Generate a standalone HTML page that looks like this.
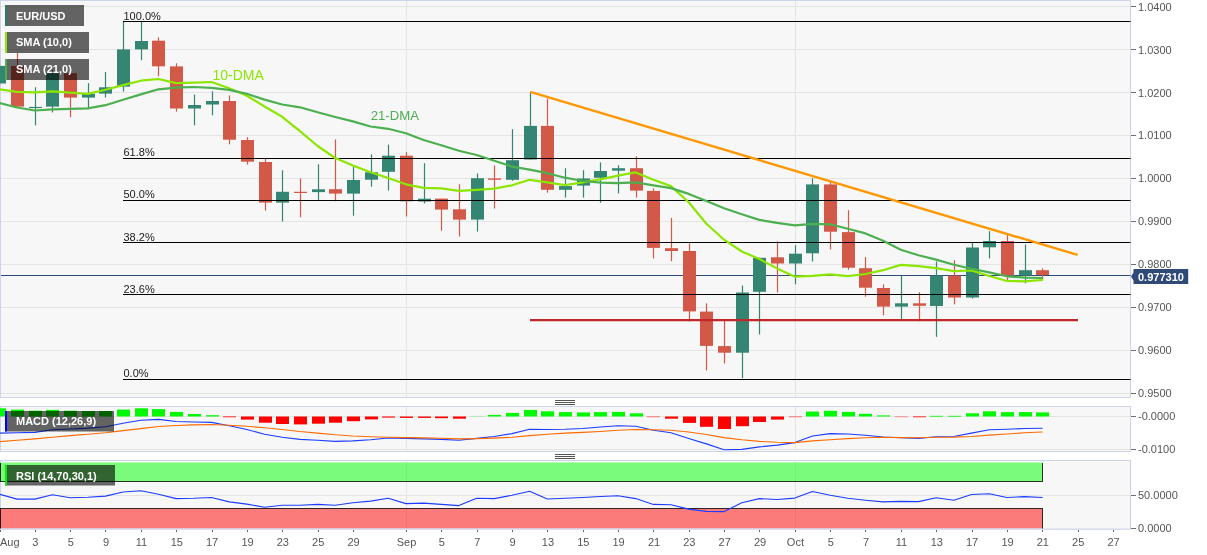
<!DOCTYPE html>
<html lang="en"><head><meta charset="utf-8"><title>EUR/USD</title>
<style>html,body{margin:0;padding:0;background:#fff;}body{width:1207px;height:555px;overflow:hidden;font-family:"Liberation Sans",Arial,sans-serif;}svg{display:block;}</style>
</head><body>
<svg width="1207" height="555" viewBox="0 0 1207 555" font-family="'Liberation Sans', Arial, sans-serif" font-size="11">
<rect x="0" y="0" width="1207" height="555" fill="#ffffff"/>
<g shape-rendering="crispEdges">
<rect x="0" y="0" width="1130.5" height="397.5" fill="#f7f7f7"/>
<rect x="0" y="406" width="1130.5" height="45.5" fill="#f7f7f7"/>
<rect x="0" y="460.5" width="1130.5" height="68.5" fill="#f7f7f7"/>
<line x1="1" x2="1130.5" y1="6.5" y2="6.5" stroke="#e4e4e4" stroke-width="1"/>
<line x1="1" x2="1130.5" y1="49.5" y2="49.5" stroke="#e4e4e4" stroke-width="1"/>
<line x1="1" x2="1130.5" y1="92.5" y2="92.5" stroke="#e4e4e4" stroke-width="1"/>
<line x1="1" x2="1130.5" y1="135.5" y2="135.5" stroke="#e4e4e4" stroke-width="1"/>
<line x1="1" x2="1130.5" y1="178.5" y2="178.5" stroke="#e4e4e4" stroke-width="1"/>
<line x1="1" x2="1130.5" y1="221.5" y2="221.5" stroke="#e4e4e4" stroke-width="1"/>
<line x1="1" x2="1130.5" y1="264.5" y2="264.5" stroke="#e4e4e4" stroke-width="1"/>
<line x1="1" x2="1130.5" y1="307.5" y2="307.5" stroke="#e4e4e4" stroke-width="1"/>
<line x1="1" x2="1130.5" y1="350.5" y2="350.5" stroke="#e4e4e4" stroke-width="1"/>
<line x1="1" x2="1130.5" y1="393.5" y2="393.5" stroke="#e4e4e4" stroke-width="1"/>
<line x1="1" x2="1130.5" y1="416.5" y2="416.5" stroke="#e4e4e4" stroke-width="1"/>
<line x1="1" x2="1130.5" y1="449.5" y2="449.5" stroke="#e4e4e4" stroke-width="1"/>
<line x1="1" x2="1130.5" y1="495.5" y2="495.5" stroke="#e4e4e4" stroke-width="1"/>
<line x1="406.5" x2="406.5" y1="1" y2="397" stroke="#e4e4e4" stroke-width="1"/>
<line x1="406.5" x2="406.5" y1="406.5" y2="451" stroke="#e4e4e4" stroke-width="1"/>
<line x1="406.5" x2="406.5" y1="461" y2="528.5" stroke="#e4e4e4" stroke-width="1"/>
<line x1="795.5" x2="795.5" y1="1" y2="397" stroke="#e4e4e4" stroke-width="1"/>
<line x1="795.5" x2="795.5" y1="406.5" y2="451" stroke="#e4e4e4" stroke-width="1"/>
<line x1="795.5" x2="795.5" y1="461" y2="528.5" stroke="#e4e4e4" stroke-width="1"/>
</g>
<g shape-rendering="crispEdges" fill="none" stroke="#cdd3ea" stroke-width="1">
<path d="M0.5,397.5 V0.5 H1130.5 V397.5 Z"/>
<rect x="0.5" y="406.5" width="1130.0" height="45"/>
<path d="M0.5,529 V460.5 H1130.5 V529"/>
</g>
<line x1="1" x2="1130.5" y1="275.5" y2="275.5" stroke="#2f4a78" stroke-width="1.2"/>
<g>
<rect x="-1.1" y="60.0" width="1.2" height="26.0" fill="#348571"/>
<rect x="-7" y="65.9" width="13" height="17.6" fill="#348571"/>
<rect x="16.9" y="53.0" width="1.2" height="53.6" fill="#d25848"/>
<rect x="11" y="66.0" width="13" height="40.6" fill="#d25848"/>
<rect x="34.9" y="87.3" width="1.2" height="38.1" fill="#348571"/>
<rect x="29" y="106.9" width="13" height="1.2" fill="#348571"/>
<rect x="51.9" y="70.0" width="1.2" height="42.4" fill="#348571"/>
<rect x="46" y="73.2" width="13" height="33.4" fill="#348571"/>
<rect x="69.9" y="71.0" width="1.2" height="46.2" fill="#d25848"/>
<rect x="64" y="73.2" width="13" height="24.4" fill="#d25848"/>
<rect x="87.9" y="83.1" width="1.2" height="26.1" fill="#348571"/>
<rect x="82" y="93.9" width="13" height="3.7" fill="#348571"/>
<rect x="104.9" y="72.0" width="1.2" height="25.6" fill="#348571"/>
<rect x="99" y="87.3" width="13" height="6.3" fill="#348571"/>
<rect x="122.9" y="20.8" width="1.2" height="70.7" fill="#348571"/>
<rect x="117" y="49.4" width="13" height="37.2" fill="#348571"/>
<rect x="140.9" y="21.6" width="1.2" height="38.6" fill="#348571"/>
<rect x="135" y="41.0" width="13" height="8.4" fill="#348571"/>
<rect x="157.9" y="37.3" width="1.2" height="39.0" fill="#d25848"/>
<rect x="152" y="40.7" width="13" height="25.6" fill="#d25848"/>
<rect x="175.9" y="63.3" width="1.2" height="48.3" fill="#d25848"/>
<rect x="170" y="66.4" width="13" height="42.1" fill="#d25848"/>
<rect x="193.9" y="94.5" width="1.2" height="30.8" fill="#348571"/>
<rect x="188" y="105.0" width="13" height="3.5" fill="#348571"/>
<rect x="211.9" y="91.3" width="1.2" height="24.0" fill="#348571"/>
<rect x="206" y="101.0" width="13" height="3.5" fill="#348571"/>
<rect x="228.9" y="95.4" width="1.2" height="48.9" fill="#d25848"/>
<rect x="223" y="101.0" width="13" height="38.7" fill="#d25848"/>
<rect x="246.9" y="137.2" width="1.2" height="27.3" fill="#d25848"/>
<rect x="241" y="140.0" width="13" height="21.7" fill="#d25848"/>
<rect x="264.9" y="159.0" width="1.2" height="51.7" fill="#d25848"/>
<rect x="259" y="162.0" width="13" height="40.6" fill="#d25848"/>
<rect x="281.9" y="170.3" width="1.2" height="51.2" fill="#348571"/>
<rect x="276" y="191.8" width="13" height="10.8" fill="#348571"/>
<rect x="299.9" y="178.4" width="1.2" height="38.9" fill="#d25848"/>
<rect x="294" y="191.8" width="13" height="1.2" fill="#d25848"/>
<rect x="317.9" y="164.3" width="1.2" height="35.6" fill="#348571"/>
<rect x="312" y="189.3" width="13" height="2.8" fill="#348571"/>
<rect x="334.9" y="139.4" width="1.2" height="61.9" fill="#d25848"/>
<rect x="329" y="189.2" width="13" height="4.4" fill="#d25848"/>
<rect x="352.9" y="166.8" width="1.2" height="48.9" fill="#348571"/>
<rect x="347" y="180.0" width="13" height="13.6" fill="#348571"/>
<rect x="370.9" y="154.4" width="1.2" height="32.3" fill="#348571"/>
<rect x="365" y="172.3" width="13" height="7.4" fill="#348571"/>
<rect x="387.9" y="144.6" width="1.2" height="45.9" fill="#348571"/>
<rect x="382" y="155.7" width="13" height="16.1" fill="#348571"/>
<rect x="405.9" y="152.0" width="1.2" height="64.5" fill="#d25848"/>
<rect x="400" y="155.7" width="13" height="45.6" fill="#d25848"/>
<rect x="423.9" y="163.2" width="1.2" height="40.2" fill="#348571"/>
<rect x="418" y="198.7" width="13" height="2.8" fill="#348571"/>
<rect x="440.9" y="198.6" width="1.2" height="32.1" fill="#d25848"/>
<rect x="435" y="198.6" width="13" height="11.0" fill="#d25848"/>
<rect x="458.9" y="184.3" width="1.2" height="52.2" fill="#d25848"/>
<rect x="453" y="209.3" width="13" height="10.3" fill="#d25848"/>
<rect x="476.9" y="173.5" width="1.2" height="58.0" fill="#348571"/>
<rect x="471" y="178.2" width="13" height="41.4" fill="#348571"/>
<rect x="493.9" y="165.4" width="1.2" height="43.1" fill="#d25848"/>
<rect x="488" y="178.4" width="13" height="1.4" fill="#d25848"/>
<rect x="511.9" y="129.2" width="1.2" height="51.5" fill="#348571"/>
<rect x="506" y="160.2" width="13" height="19.6" fill="#348571"/>
<rect x="529.9" y="91.9" width="1.2" height="67.6" fill="#348571"/>
<rect x="524" y="125.9" width="13" height="33.6" fill="#348571"/>
<rect x="546.9" y="98.6" width="1.2" height="94.1" fill="#d25848"/>
<rect x="541" y="125.9" width="13" height="63.9" fill="#d25848"/>
<rect x="564.9" y="168.2" width="1.2" height="29.4" fill="#348571"/>
<rect x="559" y="186.1" width="13" height="3.7" fill="#348571"/>
<rect x="582.9" y="170.2" width="1.2" height="27.4" fill="#348571"/>
<rect x="577" y="178.5" width="13" height="7.1" fill="#348571"/>
<rect x="599.9" y="162.4" width="1.2" height="40.3" fill="#348571"/>
<rect x="594" y="171.0" width="13" height="6.8" fill="#348571"/>
<rect x="617.9" y="165.2" width="1.2" height="28.2" fill="#348571"/>
<rect x="612" y="168.2" width="13" height="2.5" fill="#348571"/>
<rect x="635.9" y="156.3" width="1.2" height="41.3" fill="#d25848"/>
<rect x="630" y="168.2" width="13" height="22.4" fill="#d25848"/>
<rect x="652.9" y="188.4" width="1.2" height="70.1" fill="#d25848"/>
<rect x="647" y="190.9" width="13" height="57.0" fill="#d25848"/>
<rect x="670.9" y="217.9" width="1.2" height="43.3" fill="#d25848"/>
<rect x="665" y="248.2" width="13" height="2.8" fill="#d25848"/>
<rect x="688.9" y="243.3" width="1.2" height="78.2" fill="#d25848"/>
<rect x="683" y="251.0" width="13" height="60.4" fill="#d25848"/>
<rect x="705.9" y="303.3" width="1.2" height="67.1" fill="#d25848"/>
<rect x="700" y="311.6" width="13" height="34.3" fill="#d25848"/>
<rect x="723.9" y="319.6" width="1.2" height="43.9" fill="#d25848"/>
<rect x="718" y="346.1" width="13" height="6.6" fill="#d25848"/>
<rect x="741.9" y="285.5" width="1.2" height="92.7" fill="#348571"/>
<rect x="736" y="292.5" width="13" height="60.2" fill="#348571"/>
<rect x="758.9" y="257.8" width="1.2" height="76.7" fill="#348571"/>
<rect x="753" y="257.8" width="13" height="34.0" fill="#348571"/>
<rect x="776.9" y="241.3" width="1.2" height="51.2" fill="#d25848"/>
<rect x="771" y="257.3" width="13" height="6.2" fill="#d25848"/>
<rect x="794.9" y="245.2" width="1.2" height="39.1" fill="#348571"/>
<rect x="789" y="253.7" width="13" height="9.8" fill="#348571"/>
<rect x="811.9" y="178.2" width="1.2" height="83.3" fill="#348571"/>
<rect x="806" y="184.4" width="13" height="68.9" fill="#348571"/>
<rect x="829.9" y="181.5" width="1.2" height="68.0" fill="#d25848"/>
<rect x="824" y="184.4" width="13" height="47.3" fill="#d25848"/>
<rect x="847.9" y="210.2" width="1.2" height="59.6" fill="#d25848"/>
<rect x="842" y="232.1" width="13" height="35.6" fill="#d25848"/>
<rect x="864.9" y="257.1" width="1.2" height="39.6" fill="#d25848"/>
<rect x="859" y="268.2" width="13" height="19.5" fill="#d25848"/>
<rect x="882.9" y="284.4" width="1.2" height="31.0" fill="#d25848"/>
<rect x="877" y="288.0" width="13" height="18.6" fill="#d25848"/>
<rect x="900.9" y="275.6" width="1.2" height="43.6" fill="#348571"/>
<rect x="895" y="303.3" width="13" height="3.3" fill="#348571"/>
<rect x="918.9" y="292.2" width="1.2" height="29.0" fill="#d25848"/>
<rect x="913" y="303.3" width="13" height="2.5" fill="#d25848"/>
<rect x="935.9" y="261.5" width="1.2" height="75.4" fill="#348571"/>
<rect x="930" y="275.6" width="13" height="30.4" fill="#348571"/>
<rect x="953.9" y="260.2" width="1.2" height="44.1" fill="#d25848"/>
<rect x="948" y="275.6" width="13" height="21.9" fill="#d25848"/>
<rect x="971.9" y="242.8" width="1.2" height="55.7" fill="#348571"/>
<rect x="966" y="247.5" width="13" height="50.0" fill="#348571"/>
<rect x="988.9" y="231.2" width="1.2" height="27.2" fill="#348571"/>
<rect x="983" y="241.0" width="13" height="6.3" fill="#348571"/>
<rect x="1006.9" y="234.9" width="1.2" height="47.2" fill="#d25848"/>
<rect x="1001" y="241.0" width="13" height="34.5" fill="#d25848"/>
<rect x="1024.9" y="244.5" width="1.2" height="38.8" fill="#348571"/>
<rect x="1019" y="270.2" width="13" height="5.3" fill="#348571"/>
<rect x="1041.9" y="268.4" width="1.2" height="11.2" fill="#d25848"/>
<rect x="1036" y="270.2" width="13" height="4.8" fill="#d25848"/>
</g>
<line x1="123" x2="1130.5" y1="21.5" y2="21.5" stroke="#000" stroke-width="1.05"/>
<text x="123.5" y="20.1" fill="#1a1a1a">100.0%</text>
<line x1="123" x2="1130.5" y1="158.5" y2="158.5" stroke="#000" stroke-width="1.05"/>
<text x="123.5" y="156.1" fill="#1a1a1a">61.8%</text>
<line x1="123" x2="1130.5" y1="200.5" y2="200.5" stroke="#000" stroke-width="1.05"/>
<text x="123.5" y="198.1" fill="#1a1a1a">50.0%</text>
<line x1="123" x2="1130.5" y1="242.5" y2="242.5" stroke="#000" stroke-width="1.05"/>
<text x="123.5" y="241.1" fill="#1a1a1a">38.2%</text>
<line x1="123" x2="1130.5" y1="294.5" y2="294.5" stroke="#000" stroke-width="1.05"/>
<text x="123.5" y="293.1" fill="#1a1a1a">23.6%</text>
<line x1="123" x2="1130.5" y1="379.5" y2="379.5" stroke="#000" stroke-width="1.05"/>
<text x="123.5" y="377.1" fill="#1a1a1a">0.0%</text>
<polyline points="-0.6,89.3 17.1,91.8 34.8,92.3 52.4,91.4 70.1,92.7 87.8,93.9 105.5,89.8 123.1,85.1 140.8,80.7 158.5,79.0 176.2,83.1 193.8,82.6 211.5,82.0 229.2,88.3 246.9,95.7 264.5,106.5 282.2,116.8 299.9,131.2 317.6,146.0 335.2,158.0 352.9,165.5 370.6,172.2 388.2,178.0 405.9,184.3 423.6,187.9 441.3,188.4 458.9,190.9 476.6,189.8 494.3,188.6 512.0,185.3 529.6,179.8 547.3,182.3 565.0,185.1 582.7,182.3 600.4,179.3 618.0,175.7 635.7,172.4 653.4,179.8 671.0,186.1 688.7,202.2 706.4,223.7 724.1,239.7 741.8,251.5 759.4,259.0 777.1,268.4 794.8,276.7 812.5,275.9 830.1,274.3 847.8,276.1 865.5,274.0 883.1,270.2 900.8,264.9 918.5,266.2 936.2,268.2 953.9,271.2 971.5,270.5 989.2,276.0 1006.9,281.0 1024.6,281.3 1042.2,280.0" fill="none" stroke="#8ce600" stroke-width="2.2" stroke-linejoin="round" stroke-linecap="round" />
<polyline points="-0.6,103.0 17.1,107.5 34.8,110.5 52.4,109.3 70.1,108.8 87.8,108.3 105.5,105.2 123.1,99.7 140.8,94.4 158.5,89.3 176.2,87.6 193.8,87.0 211.5,87.8 229.2,89.9 246.9,93.8 264.5,99.6 282.2,104.5 299.9,107.3 317.6,112.3 335.2,117.0 352.9,121.4 370.6,126.5 388.2,128.8 405.9,133.3 423.6,140.0 441.3,145.2 458.9,150.8 476.6,155.0 494.3,160.8 512.0,166.6 529.6,169.6 547.3,173.2 565.0,177.7 582.7,181.0 600.4,182.6 618.0,183.1 635.7,182.3 653.4,185.3 671.0,188.1 688.7,193.9 706.4,201.0 724.1,208.3 741.8,214.3 759.4,219.9 777.1,222.9 794.8,225.4 812.5,223.8 830.1,224.3 847.8,228.8 865.5,233.4 883.1,240.7 900.8,249.7 918.5,255.2 936.2,259.6 953.9,264.8 971.5,268.7 989.2,272.4 1006.9,276.3 1024.6,277.6 1042.2,278.0" fill="none" stroke="#4caf50" stroke-width="2.2" stroke-linejoin="round" stroke-linecap="round" />
<text x="212.5" y="80" font-size="14" fill="#8ce600">10-DMA</text>
<text x="370.7" y="120" font-size="13.2" fill="#4caf50">21-DMA</text>
<line x1="530" x2="1078" y1="320.2" y2="320.2" stroke="#c0282a" stroke-width="2.2"/>
<line x1="530.3" y1="91.9" x2="1077.6" y2="254.9" stroke="#ff9800" stroke-width="2.4"/>
<g>
<rect x="-7" y="408.3" width="13" height="8.2" fill="#00f800" fill-opacity="1.00"/>
<rect x="11" y="409.6" width="13" height="6.9" fill="#00f800" fill-opacity="1.00"/>
<rect x="29" y="410.7" width="13" height="5.8" fill="#00f800" fill-opacity="1.00"/>
<rect x="46" y="409.9" width="13" height="6.6" fill="#00f800" fill-opacity="1.00"/>
<rect x="64" y="410.7" width="13" height="5.8" fill="#00f800" fill-opacity="1.00"/>
<rect x="82" y="411.0" width="13" height="5.5" fill="#00f800" fill-opacity="1.00"/>
<rect x="99" y="411.0" width="13" height="5.5" fill="#00f800" fill-opacity="1.00"/>
<rect x="117" y="409.6" width="13" height="6.9" fill="#00f800" fill-opacity="1.00"/>
<rect x="135" y="408.3" width="13" height="8.2" fill="#00f800" fill-opacity="1.00"/>
<rect x="152" y="409.1" width="13" height="7.4" fill="#00f800" fill-opacity="1.00"/>
<rect x="170" y="411.9" width="13" height="4.6" fill="#00f800" fill-opacity="1.00"/>
<rect x="188" y="414.0" width="13" height="2.5" fill="#00f800" fill-opacity="1.00"/>
<rect x="206" y="415.2" width="13" height="1.3" fill="#00f800" fill-opacity="1.00"/>
<rect x="223" y="416.3" width="13" height="1.0" fill="#ff0000" fill-opacity="0.80"/>
<rect x="241" y="416.5" width="13" height="3.1" fill="#ff0000" fill-opacity="1.00"/>
<rect x="259" y="416.5" width="13" height="6.2" fill="#ff0000" fill-opacity="1.00"/>
<rect x="276" y="416.5" width="13" height="7.5" fill="#ff0000" fill-opacity="1.00"/>
<rect x="294" y="416.5" width="13" height="7.9" fill="#ff0000" fill-opacity="1.00"/>
<rect x="312" y="416.5" width="13" height="7.2" fill="#ff0000" fill-opacity="1.00"/>
<rect x="329" y="416.5" width="13" height="6.2" fill="#ff0000" fill-opacity="1.00"/>
<rect x="347" y="416.5" width="13" height="4.7" fill="#ff0000" fill-opacity="1.00"/>
<rect x="365" y="416.5" width="13" height="2.9" fill="#ff0000" fill-opacity="1.00"/>
<rect x="382" y="416.5" width="13" height="1.1" fill="#ff0000" fill-opacity="1.00"/>
<rect x="400" y="416.5" width="13" height="1.4" fill="#ff0000" fill-opacity="1.00"/>
<rect x="418" y="416.5" width="13" height="1.4" fill="#ff0000" fill-opacity="1.00"/>
<rect x="435" y="416.5" width="13" height="1.7" fill="#ff0000" fill-opacity="1.00"/>
<rect x="453" y="416.5" width="13" height="2.2" fill="#ff0000" fill-opacity="1.00"/>
<rect x="471" y="415.8" width="13" height="1.0" fill="#00f800" fill-opacity="0.25"/>
<rect x="488" y="414.9" width="13" height="1.6" fill="#00f800" fill-opacity="1.00"/>
<rect x="506" y="412.9" width="13" height="3.6" fill="#00f800" fill-opacity="1.00"/>
<rect x="524" y="409.9" width="13" height="6.6" fill="#00f800" fill-opacity="1.00"/>
<rect x="541" y="411.3" width="13" height="5.2" fill="#00f800" fill-opacity="1.00"/>
<rect x="559" y="412.1" width="13" height="4.4" fill="#00f800" fill-opacity="1.00"/>
<rect x="577" y="412.4" width="13" height="4.1" fill="#00f800" fill-opacity="1.00"/>
<rect x="594" y="412.1" width="13" height="4.4" fill="#00f800" fill-opacity="1.00"/>
<rect x="612" y="411.9" width="13" height="4.6" fill="#00f800" fill-opacity="1.00"/>
<rect x="630" y="413.3" width="13" height="3.2" fill="#00f800" fill-opacity="1.00"/>
<rect x="647" y="416.3" width="13" height="1.0" fill="#ff0000" fill-opacity="0.50"/>
<rect x="665" y="416.5" width="13" height="2.2" fill="#ff0000" fill-opacity="1.00"/>
<rect x="683" y="416.5" width="13" height="6.4" fill="#ff0000" fill-opacity="1.00"/>
<rect x="700" y="416.5" width="13" height="10.3" fill="#ff0000" fill-opacity="1.00"/>
<rect x="718" y="416.5" width="13" height="12.5" fill="#ff0000" fill-opacity="1.00"/>
<rect x="736" y="416.5" width="13" height="9.7" fill="#ff0000" fill-opacity="1.00"/>
<rect x="753" y="416.5" width="13" height="5.5" fill="#ff0000" fill-opacity="1.00"/>
<rect x="771" y="416.5" width="13" height="3.1" fill="#ff0000" fill-opacity="1.00"/>
<rect x="789" y="416.3" width="13" height="1.0" fill="#ff0000" fill-opacity="0.50"/>
<rect x="806" y="411.6" width="13" height="4.9" fill="#00f800" fill-opacity="1.00"/>
<rect x="824" y="410.8" width="13" height="5.7" fill="#00f800" fill-opacity="1.00"/>
<rect x="842" y="411.9" width="13" height="4.6" fill="#00f800" fill-opacity="1.00"/>
<rect x="859" y="413.8" width="13" height="2.7" fill="#00f800" fill-opacity="1.00"/>
<rect x="877" y="415.4" width="13" height="1.1" fill="#00f800" fill-opacity="1.00"/>
<rect x="895" y="416.3" width="13" height="1.0" fill="#ff0000" fill-opacity="0.40"/>
<rect x="913" y="416.3" width="13" height="1.0" fill="#ff0000" fill-opacity="0.80"/>
<rect x="930" y="415.8" width="13" height="1.0" fill="#00f800" fill-opacity="0.80"/>
<rect x="948" y="415.8" width="13" height="1.0" fill="#00f800" fill-opacity="0.80"/>
<rect x="966" y="413.3" width="13" height="3.2" fill="#00f800" fill-opacity="1.00"/>
<rect x="983" y="411.3" width="13" height="5.2" fill="#00f800" fill-opacity="1.00"/>
<rect x="1001" y="412.1" width="13" height="4.4" fill="#00f800" fill-opacity="1.00"/>
<rect x="1019" y="412.1" width="13" height="4.4" fill="#00f800" fill-opacity="1.00"/>
<rect x="1036" y="412.4" width="13" height="4.1" fill="#00f800" fill-opacity="1.00"/>
</g>
<polyline points="-0.6,433.1 17.1,432.8 34.8,432.4 52.4,429.8 70.1,429.0 87.8,428.1 105.5,426.8 123.1,423.2 140.8,420.2 158.5,419.4 176.2,421.5 193.8,422.0 211.5,422.4 229.2,425.7 246.9,429.5 264.5,434.3 282.2,437.3 299.9,439.4 317.6,440.3 335.2,441.4 352.9,440.9 370.6,439.8 388.2,438.0 405.9,438.4 423.6,438.9 441.3,439.4 458.9,440.3 476.6,438.4 494.3,436.5 512.0,433.6 529.6,429.3 547.3,429.5 565.0,429.3 582.7,428.5 600.4,427.0 618.0,425.7 635.7,426.2 653.4,430.2 671.0,432.8 688.7,438.4 706.4,443.9 724.1,449.7 741.8,449.4 759.4,446.9 777.1,445.1 794.8,442.6 812.5,436.0 830.1,433.6 847.8,434.0 865.5,435.3 883.1,437.0 900.8,437.8 918.5,438.4 936.2,436.8 953.9,436.5 971.5,433.1 989.2,429.8 1006.9,429.3 1024.6,428.5 1042.2,428.2" fill="none" stroke="#1c3cff" stroke-width="1.1" stroke-linejoin="round" stroke-linecap="round" />
<polyline points="-0.6,441.7 17.1,440.2 34.8,438.9 52.4,437.3 70.1,435.6 87.8,434.3 105.5,432.8 123.1,430.6 140.8,428.6 158.5,426.5 176.2,425.5 193.8,424.9 211.5,424.5 229.2,425.2 246.9,426.2 264.5,427.8 282.2,429.5 299.9,431.5 317.6,433.1 335.2,434.8 352.9,436.0 370.6,436.8 388.2,437.3 405.9,437.6 423.6,437.9 441.3,438.3 458.9,438.9 476.6,438.6 494.3,438.1 512.0,437.3 529.6,435.6 547.3,434.3 565.0,433.1 582.7,432.4 600.4,431.5 618.0,430.3 635.7,429.5 653.4,429.8 671.0,430.3 688.7,432.0 706.4,434.5 724.1,437.6 741.8,439.8 759.4,441.4 777.1,442.3 794.8,442.6 812.5,440.9 830.1,439.8 847.8,438.6 865.5,437.8 883.1,437.3 900.8,437.6 918.5,437.8 936.2,437.3 953.9,437.1 971.5,436.5 989.2,435.1 1006.9,434.0 1024.6,432.8 1042.2,432.0" fill="none" stroke="#ff6a00" stroke-width="1.1" stroke-linejoin="round" stroke-linecap="round" />
<rect x="0" y="462.5" width="1042.5" height="19" fill="#00ff00" fill-opacity="0.5"/>
<rect x="0" y="508.5" width="1042.5" height="20" fill="#ff0000" fill-opacity="0.5"/>
<path d="M0.5,462.5 V481.5 H1042.5 V462.5" fill="none" stroke="#000" stroke-opacity="0.8" stroke-width="1" shape-rendering="crispEdges"/>
<path d="M0.5,528.5 V508.5 H1042.5 V528.5" fill="none" stroke="#000" stroke-opacity="0.8" stroke-width="1" shape-rendering="crispEdges"/>
<line x1="0" x2="1131.0" y1="529.1" y2="529.1" stroke="#cdd3ea" stroke-width="1.2"/>
<polyline points="-0.6,494.2 17.1,499.1 34.8,499.1 52.4,494.8 70.1,497.8 87.8,497.3 105.5,496.1 123.1,492.0 140.8,490.8 158.5,494.2 176.2,498.6 193.8,498.3 211.5,497.5 229.2,501.9 246.9,504.1 264.5,507.2 282.2,505.3 299.9,505.3 317.6,504.4 335.2,505.3 352.9,502.8 370.6,501.1 388.2,498.3 405.9,503.6 423.6,503.1 441.3,504.4 458.9,505.6 476.6,498.3 494.3,498.6 512.0,495.3 529.6,491.2 547.3,499.0 565.0,498.3 582.7,497.5 600.4,496.5 618.0,495.8 635.7,498.6 653.4,504.4 671.0,504.8 688.7,509.1 706.4,511.4 724.1,511.6 741.8,502.8 759.4,498.6 777.1,499.5 794.8,498.1 812.5,491.5 830.1,495.3 847.8,498.3 865.5,500.3 883.1,501.9 900.8,501.4 918.5,501.6 936.2,497.8 953.9,500.3 971.5,494.5 989.2,493.7 1006.9,497.5 1024.6,496.6 1042.2,497.5" fill="none" stroke="#1c3cff" stroke-width="1.1" stroke-linejoin="round" stroke-linecap="round" />
<g shape-rendering="crispEdges" stroke="#555" stroke-width="1">
<line x1="555" x2="575" y1="400.5" y2="400.5"/>
<line x1="555" x2="575" y1="402.5" y2="402.5"/>
<line x1="555" x2="575" y1="404.5" y2="404.5"/>
<line x1="555" x2="575" y1="454.5" y2="454.5"/>
<line x1="555" x2="575" y1="456.5" y2="456.5"/>
<line x1="555" x2="575" y1="458.5" y2="458.5"/>
</g>
<g shape-rendering="crispEdges" stroke="#6e6e6e" stroke-width="1">
<line x1="1130.5" x2="1136" y1="6.5" y2="6.5"/>
<line x1="1130.5" x2="1136" y1="49.5" y2="49.5"/>
<line x1="1130.5" x2="1136" y1="92.5" y2="92.5"/>
<line x1="1130.5" x2="1136" y1="135.5" y2="135.5"/>
<line x1="1130.5" x2="1136" y1="178.5" y2="178.5"/>
<line x1="1130.5" x2="1136" y1="221.5" y2="221.5"/>
<line x1="1130.5" x2="1136" y1="264.5" y2="264.5"/>
<line x1="1130.5" x2="1136" y1="307.5" y2="307.5"/>
<line x1="1130.5" x2="1136" y1="350.5" y2="350.5"/>
<line x1="1130.5" x2="1136" y1="393.5" y2="393.5"/>
<line x1="1130.5" x2="1136" y1="416.5" y2="416.5"/>
<line x1="1130.5" x2="1136" y1="449.5" y2="449.5"/>
<line x1="1130.5" x2="1136" y1="495.5" y2="495.5"/>
<line x1="1130.5" x2="1136" y1="528.5" y2="528.5"/>
</g>
<g fill="#555555">
<text x="1138" y="10.8">1.0400</text>
<text x="1138" y="53.8">1.0300</text>
<text x="1138" y="96.5">1.0200</text>
<text x="1138" y="139.1">1.0100</text>
<text x="1138" y="182.0">1.0000</text>
<text x="1138" y="225.0">0.9900</text>
<text x="1138" y="268.0">0.9800</text>
<text x="1138" y="311.0">0.9700</text>
<text x="1138" y="354.0">0.9600</text>
<text x="1138" y="397.0">0.9500</text>
<text x="1138" y="420.4">-0.0000</text>
<text x="1138" y="452.9">-0.0100</text>
<text x="1138" y="498.9">50.0000</text>
<text x="1138" y="531.9">0.0000</text>
</g>
<path d="M1131,276.5 L1133.5,272.5 L1133.5,269 H1188.2 V284 H1133.5 V280.5 Z" fill="#2f4a78"/>
<text x="1138" y="281" fill="#fff" font-weight="bold">0.977310</text>
<g shape-rendering="crispEdges" stroke="#666" stroke-width="1">
<line x1="0.5" x2="0.5" y1="530" y2="532"/>
<line x1="35.5" x2="35.5" y1="530" y2="532"/>
<line x1="70.5" x2="70.5" y1="530" y2="532"/>
<line x1="105.5" x2="105.5" y1="530" y2="532"/>
<line x1="141.5" x2="141.5" y1="530" y2="532"/>
<line x1="176.5" x2="176.5" y1="530" y2="532"/>
<line x1="212.5" x2="212.5" y1="530" y2="532"/>
<line x1="247.5" x2="247.5" y1="530" y2="532"/>
<line x1="282.5" x2="282.5" y1="530" y2="532"/>
<line x1="318.5" x2="318.5" y1="530" y2="532"/>
<line x1="353.5" x2="353.5" y1="530" y2="532"/>
<line x1="406.5" x2="406.5" y1="530" y2="532"/>
<line x1="441.5" x2="441.5" y1="530" y2="532"/>
<line x1="477.5" x2="477.5" y1="530" y2="532"/>
<line x1="512.5" x2="512.5" y1="530" y2="532"/>
<line x1="547.5" x2="547.5" y1="530" y2="532"/>
<line x1="583.5" x2="583.5" y1="530" y2="532"/>
<line x1="618.5" x2="618.5" y1="530" y2="532"/>
<line x1="653.5" x2="653.5" y1="530" y2="532"/>
<line x1="689.5" x2="689.5" y1="530" y2="532"/>
<line x1="724.5" x2="724.5" y1="530" y2="532"/>
<line x1="759.5" x2="759.5" y1="530" y2="532"/>
<line x1="795.5" x2="795.5" y1="530" y2="532"/>
<line x1="830.5" x2="830.5" y1="530" y2="532"/>
<line x1="865.5" x2="865.5" y1="530" y2="532"/>
<line x1="901.5" x2="901.5" y1="530" y2="532"/>
<line x1="936.5" x2="936.5" y1="530" y2="532"/>
<line x1="972.5" x2="972.5" y1="530" y2="532"/>
<line x1="1007.5" x2="1007.5" y1="530" y2="532"/>
<line x1="1042.5" x2="1042.5" y1="530" y2="532"/>
<line x1="1078.5" x2="1078.5" y1="530" y2="532"/>
<line x1="1113.5" x2="1113.5" y1="530" y2="532"/>
</g>
<g fill="#555555" text-anchor="middle">
<text x="0" y="546" text-anchor="start">Aug</text>
<text x="35.4" y="546">3</text>
<text x="70.7" y="546">5</text>
<text x="106.1" y="546">9</text>
<text x="141.4" y="546">11</text>
<text x="176.8" y="546">15</text>
<text x="212.1" y="546">17</text>
<text x="247.5" y="546">19</text>
<text x="282.8" y="546">23</text>
<text x="318.2" y="546">25</text>
<text x="353.5" y="546">29</text>
<text x="406.5" y="546">Sep</text>
<text x="441.9" y="546">5</text>
<text x="477.2" y="546">7</text>
<text x="512.6" y="546">9</text>
<text x="547.9" y="546">13</text>
<text x="583.3" y="546">15</text>
<text x="618.6" y="546">19</text>
<text x="654.0" y="546">21</text>
<text x="689.3" y="546">23</text>
<text x="724.7" y="546">27</text>
<text x="760.0" y="546">29</text>
<text x="795.4" y="546">Oct</text>
<text x="830.7" y="546">5</text>
<text x="866.1" y="546">7</text>
<text x="901.4" y="546">11</text>
<text x="936.8" y="546">13</text>
<text x="972.1" y="546">17</text>
<text x="1007.5" y="546">19</text>
<text x="1042.8" y="546">21</text>
<text x="1078.2" y="546">25</text>
<text x="1113.5" y="546">27</text>
</g>
<rect x="5" y="5" width="79" height="21" fill="#000" fill-opacity="0.6"/>
<rect x="5" y="5" width="2" height="21" fill="#208068"/>
<text x="16" y="20" fill="#fff" font-weight="bold">EUR/USD</text>
<rect x="5" y="32" width="84" height="21" fill="#000" fill-opacity="0.6"/>
<rect x="5" y="32" width="2" height="21" fill="#8ce600"/>
<text x="16" y="46" fill="#fff" font-weight="bold">SMA (10,0)</text>
<rect x="5" y="59" width="84" height="21" fill="#000" fill-opacity="0.6"/>
<rect x="5" y="59" width="2" height="21" fill="#4caf50"/>
<text x="16" y="73" fill="#fff" font-weight="bold">SMA (21,0)</text>
<rect x="5" y="411" width="109" height="20.5" fill="#000" fill-opacity="0.6"/>
<rect x="5" y="411" width="2" height="20.5" fill="#0000ff"/>
<text x="16" y="425.3" fill="#fff" font-weight="bold">MACD (12,26,9)</text>
<rect x="5" y="465" width="110" height="20.5" fill="#000" fill-opacity="0.6"/>
<rect x="5" y="465" width="2" height="20.5" fill="#00f000"/>
<text x="16" y="480" fill="#fff" font-weight="bold">RSI (14,70,30,1)</text>
</svg>
</body></html>
